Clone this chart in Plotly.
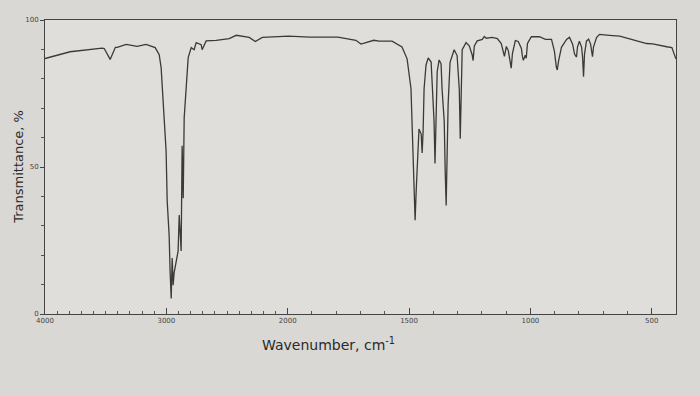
import plotly.graph_objects as go

# Wavenumbers (cm^-1) and transmittance (%)
wavenumber = [4000, 3793, 3529, 3512, 3463, 3420, 3405, 3331, 3241, 3167, 3092, 3059, 3043, 3035, 3018,
              3002, 2993, 2977, 2969, 2960, 2952, 2944, 2936, 2919, 2903, 2894, 2886, 2878, 2870, 2861,
              2853, 2836, 2820, 2795, 2771, 2754, 2713, 2705, 2672, 2589, 2482, 2424, 2317, 2267, 2209,
              1996, 1909, 1793, 1719, 1698, 1645, 1624, 1570, 1529, 1508, 1492, 1488, 1483, 1479, 1475,
              1471, 1463, 1459, 1450, 1446, 1442, 1438, 1430, 1421, 1409, 1405, 1397, 1393, 1388, 1384,
              1376, 1368, 1364, 1355, 1351, 1347, 1343, 1339, 1331, 1314, 1302, 1293, 1289, 1285, 1281,
              1265, 1252, 1240, 1236, 1231, 1219, 1198, 1190, 1182, 1157, 1136, 1120, 1107, 1099, 1091,
              1083, 1079, 1074, 1062, 1050, 1037, 1033, 1029, 1021, 1017, 1012, 996, 963, 938, 913,
              901, 893, 889, 884, 872, 851, 839, 826, 818, 810, 806, 798, 789, 785, 781,
              777, 769, 760, 752, 744, 740, 727, 715, 674, 632, 591, 550, 521, 496, 467,
              438, 417, 400]
transmittance = [86.9, 89.2, 90.4, 90.3, 86.6, 90.7, 90.7, 91.7, 91.0, 91.7, 90.6, 88.2, 83.8, 78.0, 66.7,
                 55.4, 38.4, 26.8, 14.5, 5.3, 19.0, 9.8, 14.0, 18.0, 21.4, 33.7, 28.2, 21.4, 57.2, 39.4,
                 66.7, 78.0, 87.2, 90.6, 89.9, 92.3, 91.6, 89.9, 92.9, 93.1, 93.7, 94.8, 94.1, 92.7, 94.1,
                 94.5, 94.2, 94.2, 93.1, 91.8, 93.1, 92.8, 92.8, 90.8, 86.8, 76.7, 65.6, 54.4, 43.0, 31.9,
                 41.0, 56.5, 62.9, 61.2, 54.8, 62.2, 76.6, 84.7, 87.1, 85.7, 79.0, 65.6, 51.2, 65.6, 82.4,
                 86.4, 85.1, 76.7, 65.5, 48.6, 36.9, 54.3, 71.1, 85.6, 89.9, 87.9, 76.5, 59.6, 76.5, 89.9,
                 92.3, 91.2, 88.2, 86.2, 91.2, 92.9, 93.4, 94.4, 93.8, 94.1, 93.7, 92.0, 87.6, 91.0, 89.6,
                 85.3, 83.6, 88.6, 93.0, 92.7, 90.3, 87.7, 86.3, 88.0, 87.0, 92.0, 94.3, 94.3, 93.4, 93.4,
                 89.4, 84.0, 83.0, 86.0, 90.7, 93.4, 94.1, 91.8, 88.4, 87.4, 90.8, 92.8, 90.8, 87.4, 80.7,
                 88.4, 92.8, 93.5, 91.8, 87.5, 90.8, 94.1, 95.1, 94.8, 94.5, 93.6, 92.6, 92.0, 91.9, 91.3,
                 90.9, 90.6, 86.7]

major_ticks = [4000, 3000, 2000, 1500, 1000, 500]
major_labels = ["4000", "3000", "2000", "1500", "1000", "500"]
y_ticks = [0, 50, 100]
y_labels = ["0", "50", "100"]


def scale(wn):
    # IR chart scale: 4000-2000 compressed, 2000-400 expanded 2x
    return (4000 - wn) if wn >= 2000 else 2000 + 2 * (2000 - wn)


minor_wn = [w for w in list(range(3900, 2000, -100)) + list(range(1900, 400, -100))
            if w not in major_ticks]

fig = go.Figure()
fig.add_trace(go.Scatter(
    x=[scale(w) for w in wavenumber], y=transmittance, mode="lines",
    line=dict(color="#3a3a3a", width=1.3), showlegend=False, hoverinfo="skip"))

fig.update_layout(
    width=700, height=396,
    margin=dict(l=45, r=24, t=20, b=82),
    paper_bgcolor="#d9d8d4", plot_bgcolor="#dfdedb",
    font=dict(family="DejaVu Sans", color="#333"),
)
fig.update_xaxes(
    range=[scale(4000), scale(400)], showgrid=False, zeroline=False,
    tickmode="array", tickvals=[scale(w) for w in major_ticks], ticktext=major_labels,
    ticks="inside", ticklen=6, tickcolor="#444", tickwidth=1,
    tickfont=dict(size=7, color="#444"),
    minor=dict(tickmode="array", tickvals=[scale(w) for w in minor_wn],
               ticks="inside", ticklen=3, tickcolor="#555"),
    showline=True, linecolor="#444", linewidth=1, mirror=True,
)
fig.update_yaxes(
    range=[0, 100], showgrid=False, zeroline=False,
    tickmode="array", tickvals=y_ticks, ticktext=y_labels,
    ticks="outside", ticklen=4, tickcolor="#444",
    tickfont=dict(size=7, color="#444"),
    minor=dict(tickmode="array", tickvals=list(range(10, 100, 10)),
               ticks="outside", ticklen=3, tickcolor="#555"),
    showline=True, linecolor="#444", linewidth=1, mirror=True,
)
fig.add_annotation(text="Wavenumber, cm<sup>-1</sup>", xref="paper", yref="paper",
                   x=(328 - 45) / (700 - 45 - 24), y=-0.065, yanchor="top", showarrow=False,
                   font=dict(size=14, color="#2a2a2a"))
fig.add_annotation(text="Transmittance, %", xref="paper", yref="paper",
                   x=-0.028, xanchor="right", y=0.5, textangle=-90, showarrow=False,
                   font=dict(size=13, color="#2a2a2a"))

fig.write_html("out.html")
